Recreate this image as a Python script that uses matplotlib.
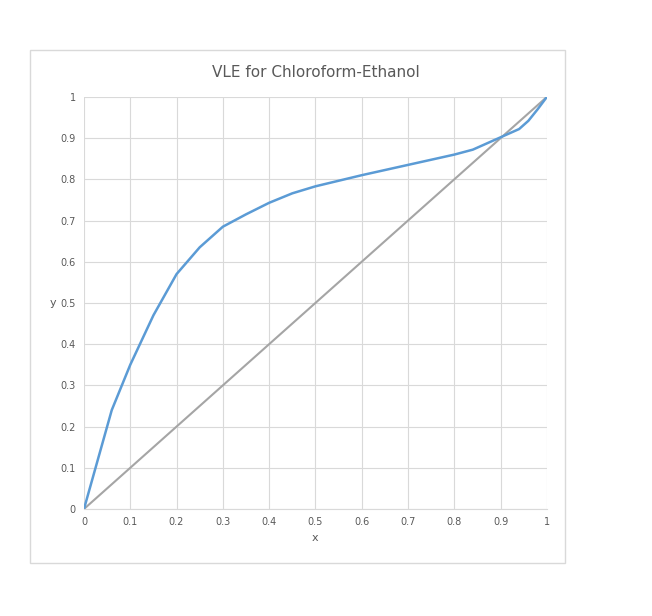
import matplotlib
matplotlib.use("Agg")
import matplotlib.pyplot as plt
from matplotlib.patches import Rectangle

x_vle = [0, 0.03, 0.06, 0.1, 0.15, 0.2, 0.25, 0.3, 0.35, 0.4, 0.45, 0.5, 0.6, 0.7, 0.8, 0.84, 0.9, 0.94, 0.96, 0.98, 1.0]
y_vle = [0, 0.12, 0.24, 0.35, 0.47, 0.57, 0.635, 0.685, 0.715, 0.743, 0.766, 0.783, 0.81, 0.835, 0.86, 0.872, 0.902, 0.922, 0.942, 0.97, 1.0]
x_diag = [0, 1]
y_diag = [0, 1]
ticks = [0, 0.1, 0.2, 0.3, 0.4, 0.5, 0.6, 0.7, 0.8, 0.9, 1]
tick_labels = ["0", "0.1", "0.2", "0.3", "0.4", "0.5", "0.6", "0.7", "0.8", "0.9", "1"]

fig = plt.figure(figsize=(6.52, 6.16), dpi=100)
fig.patches.append(Rectangle((0.046, 0.086), 0.8206, 0.833, transform=fig.transFigure,
                             fill=False, edgecolor="#d9d9d9", linewidth=1))
ax = fig.add_axes([0.1288, 0.1737, 0.710, 0.669])
ax.plot(x_diag, y_diag, color="#a5a5a5", linewidth=1.5)
ax.plot(x_vle, y_vle, color="#5b9bd5", linewidth=1.8)
ax.set_xlim(0, 1)
ax.set_ylim(0, 1)
ax.set_xticks(ticks)
ax.set_xticklabels(tick_labels)
ax.set_yticks(ticks)
ax.set_yticklabels(tick_labels)
ax.grid(True, color="#d9d9d9", linewidth=0.8)
ax.set_axisbelow(True)
for s in ["top", "right", "left"]:
    ax.spines[s].set_visible(False)
ax.spines["bottom"].set_color("#d9d9d9")
ax.tick_params(length=0, labelsize=7, colors="#595959", pad=6)
ax.set_xlabel("x", fontsize=8, color="#595959")
ax.set_ylabel("y", fontsize=8, color="#595959", rotation=0, va="center", ha="center")
ax.yaxis.set_label_coords(-0.068, 0.5)
ax.set_title("VLE for Chloroform-Ethanol", fontsize=11, color="#595959", pad=14)
fig.savefig("out.png", dpi=100)
